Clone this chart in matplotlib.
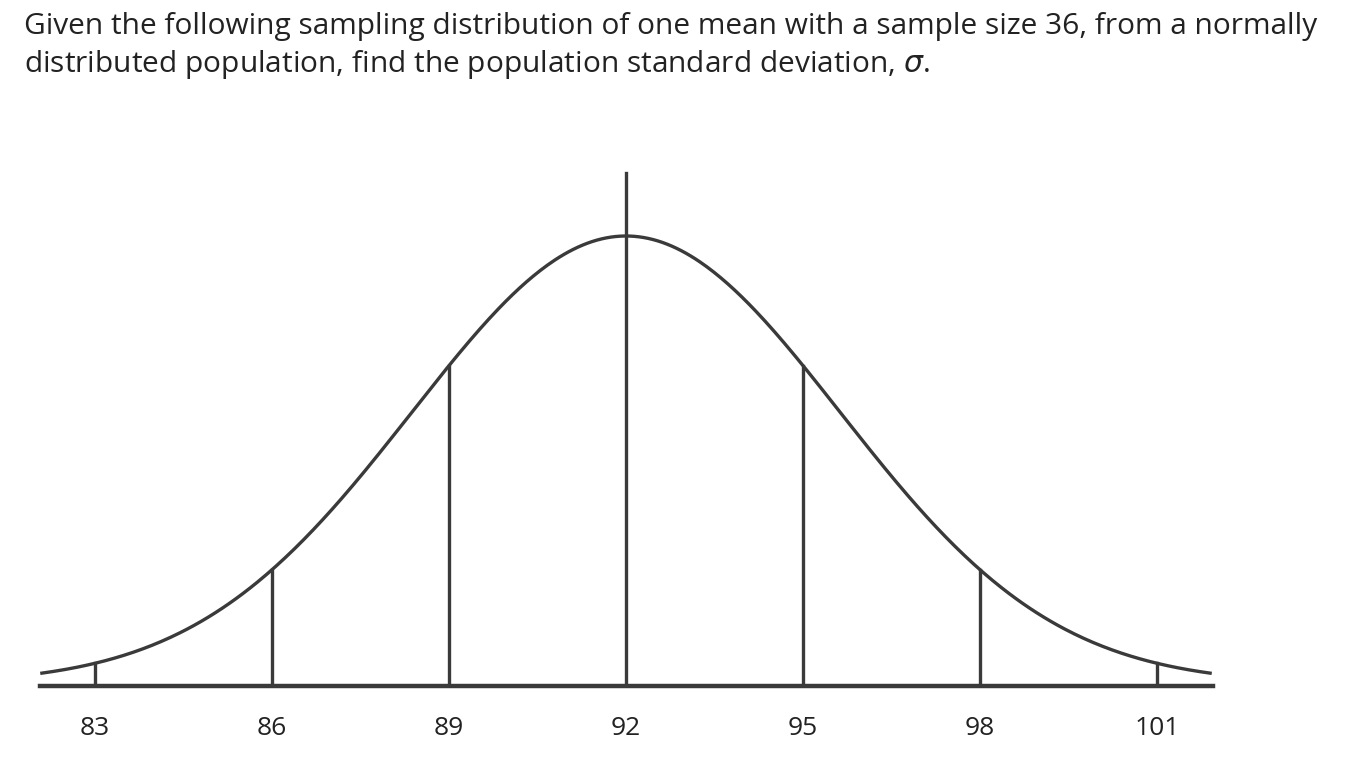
import numpy as np
import matplotlib
matplotlib.use("Agg")
import matplotlib.pyplot as plt

ticks = [83, 86, 89, 92, 95, 98, 101]
tick_labels = ["83", "86", "89", "92", "95", "98", "101"]
mean = 92
curve_sd = 3.63  # drawn curve width (hand-drawn figure)
title = ("Given the following sampling distribution of one mean with a sample size 36, from a normally\n"
         "distributed population, find the population standard deviation, $\\sigma$.")

fig = plt.figure(figsize=(13.58, 7.84), dpi=100)
ax = fig.add_axes([0, 0, 1, 1])
px = 59.0
ax.set_xlim(83 - 95 / px, 83 + (1358 - 95) / px)
ax.set_ylim(-(784 - 684) / 448, 684 / 448)
ax.axis("off")

col = "#3a3a3a"
lw = 2.4
x = np.linspace(82.1, 101.9, 500)
f = lambda v: np.exp(-0.5 * ((v - mean) / curve_sd) ** 2)
ax.plot(x, f(x), color=col, lw=lw)
ax.plot([82.07, 101.95], [-0.005, -0.005], color=col, lw=3.2)
for t, lab in zip(ticks, tick_labels):
    top = 1.14 if t == mean else f(t)
    ax.plot([t, t], [0, top], color=col, lw=lw)
    ax.text(t, -0.1, lab, ha="center", va="center", fontsize=19,
            family="Open Sans", color="#222")

fig.text(24 / 1358, 1 - 12 / 784, title, ha="left", va="top", fontsize=21.5,
         family="Open Sans", color="#222", linespacing=1.3)
fig.savefig("out.png", dpi=100)
